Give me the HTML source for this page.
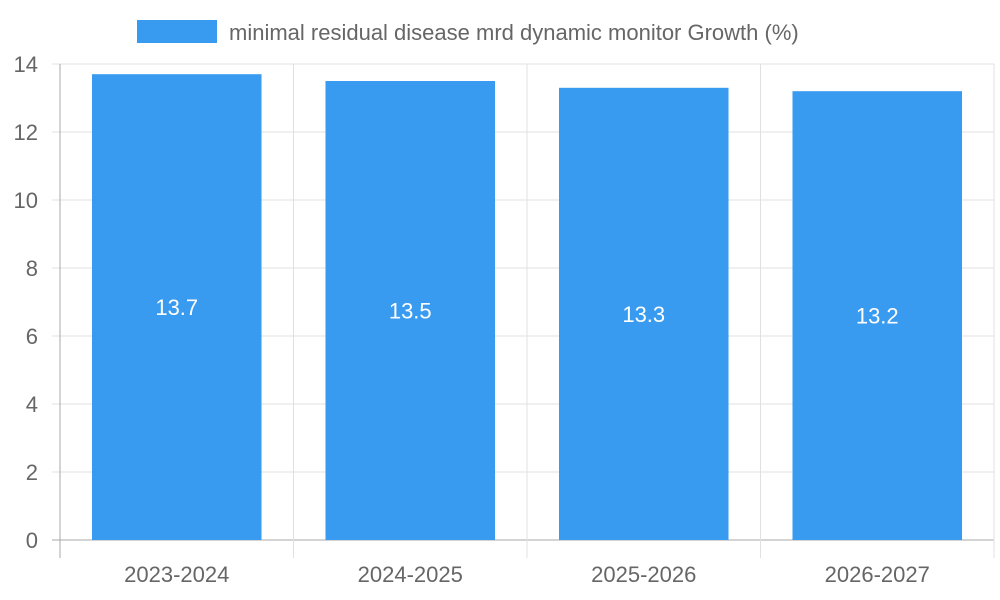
<!DOCTYPE html>
<html><head><meta charset="utf-8"><style>
body{margin:0;background:#fff;}
svg{display:block;font-family:"Liberation Sans",sans-serif;}
</style></head><body>
<svg id="chart" width="1000" height="600">
<rect x="137" y="20" width="80" height="23" fill="#389bf0"/>
<text x="229" y="40" font-size="22" fill="#666">minimal residual disease mrd dynamic monitor Growth (%)</text>
<g id="grid"></g><g id="bars"></g>
</svg>
<script>
const categories=["2023-2024","2024-2025","2025-2026","2026-2027"];
const values=[13.7,13.5,13.3,13.2];
const yTicks=[0,2,4,6,8,10,12,14];
const NS="http://www.w3.org/2000/svg";
const L=60,R=994,T=64,B=540,yMax=14;
const y=v=>B-(v/yMax)*(B-T);
const bw=(R-L)/categories.length;
const x=i=>L+i*bw;
const g=document.getElementById('grid'),bg=document.getElementById('bars');
function mk(tag,attrs,parent){const e=document.createElementNS(NS,tag);for(const k in attrs)e.setAttribute(k,attrs[k]);parent.appendChild(e);return e;}
yTicks.forEach(t=>{
 const l=mk('line',{x1:L-8,x2:R,y1:y(t),y2:y(t),stroke:t===0?'#aaa':'#e0e0e0','stroke-width':1},g);
 
 
 const tx=mk('text',{x:38,y:y(t)+8,'text-anchor':'end','font-size':22,fill:'#666'},g);
 tx.textContent=t;
 
 
});
for(let i=0;i<=categories.length;i++){
 const l=mk('line',{x1:x(i),x2:x(i),y1:T,y2:B+18,stroke:i===0?'#aaa':'#e0e0e0','stroke-width':1},g);
 
 
}
categories.forEach((c,i)=>{
 const pad=bw*0.137;
 const r=mk('rect',{x:x(i)+pad,y:y(values[i]),width:bw-2*pad,height:B-y(values[i]),fill:'#389bf0'},bg);
 
 
 const v=mk('text',{x:x(i)+bw/2,y:(y(values[i])+B)/2+8,'text-anchor':'middle','font-size':22,fill:'#fff'},bg);
 v.textContent=values[i];
 
 
 const xl=mk('text',{x:x(i)+bw/2,y:582,'text-anchor':'middle','font-size':22,fill:'#666'},bg);
 xl.textContent=c;
 
 
});
</script>
</body></html>
